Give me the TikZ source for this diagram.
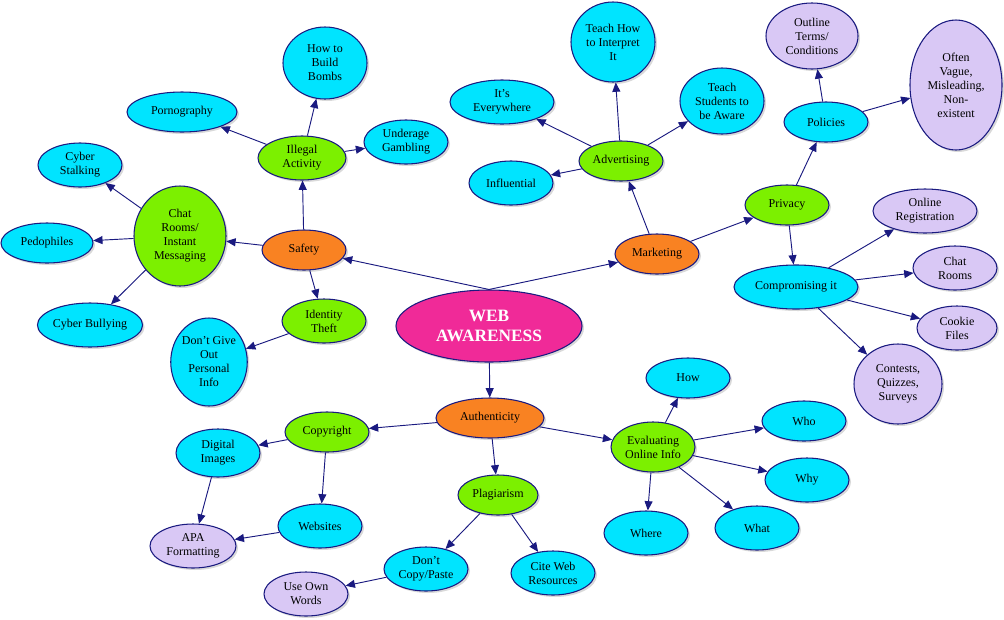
\documentclass[tikz,border=0pt]{standalone}
\usepackage{fontspec}
\setmainfont{Liberation Serif}
\usetikzlibrary{shapes.geometric,arrows.meta,shadows}
\definecolor{cOr}{HTML}{F98222}
\definecolor{cGr}{HTML}{7CF000}
\definecolor{cCy}{HTML}{00E4FF}
\definecolor{cLv}{HTML}{D9C8F5}
\definecolor{cMg}{HTML}{F02A98}
\definecolor{cNv}{HTML}{1A1A80}
\tikzset{
  bub/.style={ellipse,draw=cNv,line width=0.8pt,inner sep=0pt,align=center,font=\fontsize{9}{10.5}\selectfont,
    drop shadow={opacity=0.3,shadow xshift=1.5pt,shadow yshift=-1.5pt}},
  sz/.style 2 args={minimum width=#1*0.75pt,minimum height=#2*0.75pt},
  og/.style={bub,fill=cOr}, gr/.style={bub,fill=cGr}, cy/.style={bub,fill=cCy}, lv/.style={bub,fill=cLv},
  ar/.style={draw=cNv,line width=0.7pt,-{Triangle[length=7pt,width=6pt]}}
}
\begin{document}
\begin{tikzpicture}[x=0.75pt,y=-0.75pt]
\useasboundingbox (0,0) rectangle (1004,619);
\node[bub,fill=cMg,sz={186}{72},text=white,font=\fontsize{13}{15}\selectfont\bfseries] (web) at (489,326) {WEB\\AWARENESS};
\node[og,sz={84}{40}] (safety) at (304,250) {Safety};
\node[og,sz={84}{40}] (mkt) at (657,254) {Marketing};
\node[og,sz={108}{40}] (auth) at (490,418) {Authenticity};
\node[gr,sz={88}{44}] (ill) at (302,158) {Illegal\\Activity};
\node[gr,sz={92}{100}] (chat) at (180,236) {Chat\\Rooms/\\Instant\\Messaging};
\node[gr,sz={84}{44}] (idt) at (324,321) {Identity\\Theft};
\node[gr,sz={84}{40}] (adv) at (621,161) {Advertising};
\node[gr,sz={84}{40}] (priv) at (787,205) {Privacy};
\node[gr,sz={84}{40}] (copy) at (327,432) {Copyright};
\node[gr,sz={80}{40}] (plag) at (498,495) {Plagiarism};
\node[gr,sz={84}{50}] (eval) at (653,447) {Evaluating\\Online Info};
\node[cy,sz={110}{40}] (porn) at (182,112) {Pornography};
\node[cy,sz={84}{72}] (bomb) at (325,63) {How to\\Build\\Bombs};
\node[cy,sz={84}{44}] (gamb) at (406,142) {Underage\\Gambling};
\node[cy,sz={84}{44}] (stalk) at (80,165) {Cyber\\Stalking};
\node[cy,sz={92}{40}] (pedo) at (47,243) {Pedophiles};
\node[cy,sz={94}{44}] (bully) at (90,325) {Cyber Bullying};
\node[cy,sz={76}{88}] (give) at (209,362) {Don't Give\\Out\\Personal\\Info};
\node[cy,sz={104}{44}] (every) at (502,102) {It's\\Everywhere};
\node[cy,sz={84}{80}] (teach) at (613,42) {Teach How\\to Interpret\\It};
\node[cy,sz={84}{66}] (stud) at (722,101) {Teach\\Students to\\be Aware};
\node[cy,sz={84}{44}] (infl) at (511,183) {Influential};
\node[cy,sz={84}{40}] (pol) at (826,122) {Policies};
\node[lv,sz={92}{66}] (out) at (812,36) {Outline\\Terms/\\Conditions};
\node[lv,sz={92}{130}] (often) at (956,85) {Often\\Vague,\\Misleading,\\Non-\\existent};
\node[lv,sz={104}{44}] (reg) at (925,211) {Online\\Registration};
\node[cy,sz={124}{44}] (comp) at (796,287) {Compromising it};
\node[lv,sz={84}{44}] (croom) at (955,268) {Chat\\Rooms};
\node[lv,sz={80}{44}] (cook) at (957,328) {Cookie\\Files};
\node[lv,sz={88}{80}] (cont) at (898,384) {Contests,\\Quizzes,\\Surveys};
\node[cy,sz={84}{40}] (how) at (688,378) {How};
\node[cy,sz={84}{40}] (who) at (804,421) {Who};
\node[cy,sz={84}{44}] (why) at (807,480) {Why};
\node[cy,sz={84}{44}] (what) at (757,528) {What};
\node[cy,sz={84}{44}] (where) at (646,533) {Where};
\node[cy,sz={84}{48}] (dig) at (218,453) {Digital\\Images};
\node[cy,sz={84}{44}] (webs) at (320,526) {Websites};
\node[lv,sz={86}{44}] (apa) at (193,546) {APA\\Formatting};
\node[cy,sz={84}{44}] (dcp) at (426,569) {Don't\\Copy/Paste};
\node[cy,sz={84}{44}] (cite) at (553,573) {Cite Web\\Resources};
\node[lv,sz={84}{44}] (own) at (306,594) {Use Own\\Words};
\draw[ar] (web.north) -- (safety);
\draw[ar] (web.north) -- (mkt);
\draw[ar] (web) -- (auth);
\foreach \a/\b in {safety/ill,safety/chat,safety/idt,ill/porn,ill/bomb,ill/gamb,chat/stalk,chat/pedo,chat/bully,idt/give,
  mkt/adv,mkt/priv,adv/every,adv/teach,adv/stud,adv/infl,priv/pol,priv/comp,pol/out,pol/often,comp/reg,comp/croom,comp/cook,comp/cont,
  auth/copy,auth/plag,auth/eval,copy/dig,copy/webs,dig/apa,webs/apa,plag/dcp,plag/cite,dcp/own,eval/how,eval/who,eval/why,eval/what,eval/where}
  \draw[ar] (\a) -- (\b);
\end{tikzpicture}
\end{document}
